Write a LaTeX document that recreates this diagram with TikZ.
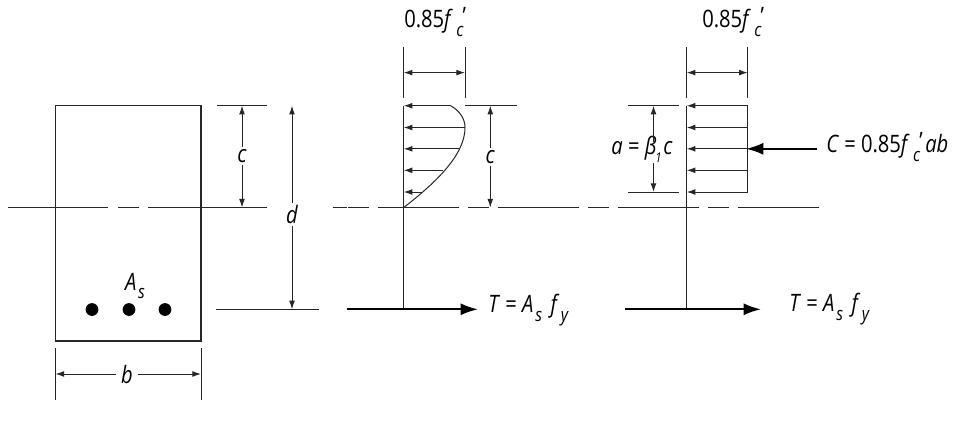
\documentclass[tikz,border=0pt]{standalone}
\usepackage{fontspec}
\setmainfont[FakeStretch=0.84]{Open Sans}
\usetikzlibrary{arrows.meta}
\newcommand{\low}[1]{\raisebox{-0.34em}{\fontsize{14}{14}\selectfont\textit{#1}}}
\newcommand{\fck}{\textit{f}\kern0.14em\low{c}\kern-0.04em\raisebox{0.12em}{'}}
\newcommand{\Tforce}{\textit{T} = \textit{A}\kern0.08em\low{s}\kern0.35em\textit{f}\kern0.06em\low{y}}

\begin{document}
\begin{tikzpicture}[x=0.75pt, y=-0.75pt,
  ln/.style={line width=0.75pt, black!85},
  dimline/.style={ln, ->, >={Latex[length=6.5pt,width=4.4pt]}},
  force/.style={line width=1.5pt, ->, >={Latex[length=13pt,width=9pt]}},
  axisdash/.style={ln, dash pattern=on 15.75pt off 6.75pt on 60.75pt off 6.75pt},
  lab/.style={font=\fontsize{18}{20}\selectfont, inner sep=1.5pt}]
\useasboundingbox (0,0) rectangle (966,426);

% beam section
\draw[ln, line width=1pt] (55.5,105.5) rectangle (201,341);
\fill (92,309.5) circle (6.4) (129,309.5) circle (6.4) (165,309.5) circle (6.4);
\node[lab] (As) at (135,286) {\textit{A}\kern0.08em\low{s}};

% neutral axis
\coordinate (ax0) at (8,207.5);    \coordinate (ax1) at (108,207.5);
\coordinate (ax2) at (118,207.5);  \coordinate (ax3) at (217,207.5);
\coordinate (ax4) at (333,207.5);  \coordinate (ax5) at (347,207.5);
\coordinate (ax6) at (348,207.5);  \coordinate (ax7) at (819,207.5);
\coordinate (ax8) at (267,207.5);
\draw[ln] (ax0) -- (ax1);
\draw[axisdash] (ax2) -- (ax3);
\draw[ln] (ax3) -- (ax8);
\draw[ln] (ax4) -- (ax5);
\draw[axisdash] (ax6) -- (ax7);

% dimensions c, d, b
\coordinate (topL) at (217,105.7); \coordinate (topR) at (267,105.7);
\coordinate (botL) at (216,309.3); \coordinate (botR) at (319,309.3);
\coordinate (c1T) at (242,105.7);  \coordinate (c1B) at (242,207.5);
\coordinate (dT) at (292,105.7);   \coordinate (dB) at (292,309.3);
\node[lab] (c1) at (242,156) {\textit{c}};
\node[lab] (d) at (292,214) {\textit{d}};
\draw[ln] (topL) -- (topR);
\draw[ln] (botL) -- (botR);
\draw
	(c1) edge[dimline] (c1T)
	(c1) edge[dimline] (c1B)
	(d) edge[dimline] (dT)
	(d) edge[dimline] (dB)
;
\coordinate (bLT) at (55.5,348);   \coordinate (bLB) at (55.5,400);
\coordinate (bRT) at (201,348);    \coordinate (bRB) at (201,400);
\coordinate (bL) at (55.5,374);    \coordinate (bR) at (201,374);
\node[lab, inner sep=4pt] (b) at (127,374) {\textit{b}};
\draw[ln] (bLT) -- (bLB);
\draw[ln] (bRT) -- (bRB);
\draw
	(b) edge[dimline] (bL)
	(b) edge[dimline] (bR)
;

% parabolic stress block
\coordinate (p0) at (403.7,105.7); \coordinate (q0) at (450.7,105.7);
\coordinate (p1) at (403.7,127.5); \coordinate (q1) at (465,127.5);
\coordinate (p2) at (403.7,148.8); \coordinate (q2) at (459,148.8);
\coordinate (p3) at (403.7,170.3); \coordinate (q3) at (443,170.3);
\coordinate (p4) at (403.7,192);   \coordinate (q4) at (422,192);
\coordinate (pN) at (403.7,207.5); \coordinate (pS) at (403.7,309.3);
\draw[ln] (p0) -- (pS);
\draw[ln] (q0) .. controls (460,111) and (465,119) .. (q1)
  .. controls (465,152) and (442,178) .. (pN);
\draw
	(q0) edge[dimline] (p0)
	(q1) edge[dimline] (p1)
	(q2) edge[dimline] (p2)
	(q3) edge[dimline] (p3)
	(q4) edge[dimline] (p4)
;
\coordinate (w1L) at (403.7,47);   \coordinate (w1LB) at (403.7,98);
\coordinate (w1R) at (465,47);     \coordinate (w1RB) at (465,98);
\coordinate (w1a) at (403.7,72.6); \coordinate (w1b) at (465,72.6);
\node[lab, anchor=west] (fc1) at (402,22) {0.85\fck};
\draw[ln] (w1L) -- (w1LB);
\draw[ln] (w1R) -- (w1RB);
\draw (w1a) edge[dimline, <->] (w1b);
\coordinate (top2L) at (465,105.7); \coordinate (top2R) at (516.7,105.7);
\coordinate (c2T) at (490.3,105.7); \coordinate (c2B) at (490.3,207.5);
\node[lab] (c2) at (490.3,157) {\textit{c}};
\draw[ln] (top2L) -- (top2R);
\draw
	(c2) edge[dimline] (c2T)
	(c2) edge[dimline] (c2B)
;
\coordinate (T1a) at (347,309.3);  \coordinate (T1b) at (478,309.3);
\draw (T1a) edge[force] (T1b);
\node[lab, anchor=west] (T1) at (486,310) {\Tforce};

% rectangular stress block
\coordinate (r0) at (686.7,105.7); \coordinate (s0) at (747.7,105.7);
\coordinate (r1) at (686.7,127.5); \coordinate (s1) at (747.7,127.5);
\coordinate (r2) at (686.7,148.8); \coordinate (s2) at (747.7,148.8);
\coordinate (r3) at (686.7,170.3); \coordinate (s3) at (747.7,170.3);
\coordinate (r4) at (686.7,192);   \coordinate (s4) at (747.7,192);
\coordinate (rS) at (686.7,309.3);
\draw[ln] (r0) -- (rS);
\draw[ln] (s0) -- (s4);
\draw
	(s0) edge[dimline] (r0)
	(s1) edge[dimline] (r1)
	(s2) edge[dimline] (r2)
	(s3) edge[dimline] (r3)
	(s4) edge[dimline] (r4)
;
\coordinate (w2L) at (686.7,47);   \coordinate (w2LB) at (686.7,98);
\coordinate (w2R) at (747.7,47);   \coordinate (w2RB) at (747.7,98);
\coordinate (w2a) at (686.7,72.6); \coordinate (w2b) at (747.7,72.6);
\node[lab, anchor=west] (fc2) at (700,22) {0.85\fck};
\draw[ln] (w2L) -- (w2LB);
\draw[ln] (w2R) -- (w2RB);
\draw (w2a) edge[dimline, <->] (w2b);
\coordinate (e1L) at (628,105.7);  \coordinate (e1R) at (679,105.7);
\coordinate (e2L) at (628,192);    \coordinate (e2R) at (679,192);
\coordinate (aT) at (653.5,105.7); \coordinate (aUp) at (653.5,142);
\coordinate (aB) at (653.5,192);   \coordinate (aDn) at (653.5,163);
\node[lab] (a) at (642,149) {\textit{a} = \textit{β}\kern-0.05em\low{\fontsize{10}{10}\selectfont 1}\kern0.08em\textit{c}};
\draw[ln] (e1L) -- (e1R);
\draw[ln] (e2L) -- (e2R);
\draw
	(aUp) edge[dimline] (aT)
	(aDn) edge[dimline] (aB)
;
\coordinate (Ca) at (816.7,148.8); \coordinate (Cb) at (746,148.8);
\draw (Ca) edge[force] (Cb);
\node[lab, anchor=west] (C) at (824,147) {\textit{C} = 0.85\fck\kern0.1em\textit{ab}};
\coordinate (T2a) at (625,309.3);  \coordinate (T2b) at (761,309.3);
\draw (T2a) edge[force] (T2b);
\node[lab, anchor=west] (T2) at (787,309) {\Tforce};
\end{tikzpicture}
\end{document}
